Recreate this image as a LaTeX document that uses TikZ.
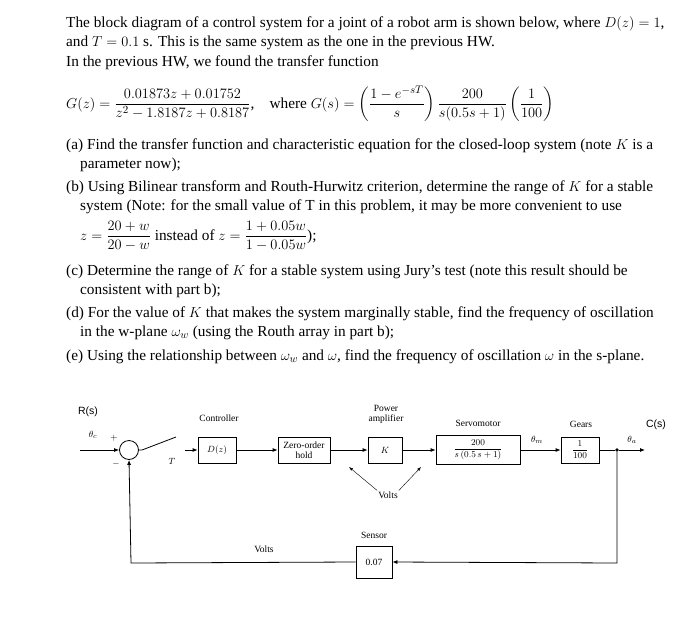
\documentclass[tikz,border=0pt]{standalone}
\usepackage{amsmath}
\usepackage{fontspec}
\setmainfont{Liberation Serif}
\newfontfamily\sansf{Liberation Sans}
\usetikzlibrary{arrows.meta}
\begin{document}
\begin{tikzpicture}[x=1pt,y=-1pt,
  txt/.style={anchor=base west,inner sep=0pt,font=\fontsize{15.3}{18}\selectfont},
  blk/.style={draw,thick,minimum height=26pt,inner sep=2pt,font=\fontsize{9.5}{10}\selectfont,align=center},
  lab/.style={font=\fontsize{9.5}{10}\selectfont,inner sep=1pt},
  sig/.style={thick,-{Latex[length=5pt,width=4pt]}}]
\useasboundingbox (0,0) rectangle (700,623);
\node[txt] (l1) at (66,28) {The block diagram of a control system for a joint of a robot arm is shown below, where $D(z)=1$,};
\node[txt] (l2) at (66,47) {and $T=0.1$ s. This is the same system as the one in the previous HW.};
\node[txt] (l3) at (66,67) {In the previous HW, we found the transfer function};
\node[txt] (l4) at (66,108) {$G(z)=\dfrac{0.01873z+0.01752}{z^2-1.8187z+0.8187}$,\quad where $G(s)=\left(\dfrac{1-e^{-sT}}{s}\right)\dfrac{200}{s(0.5s+1)}\left(\dfrac{1}{100}\right)$};
\node[txt] (l5) at (66,149) {(a) Find the transfer function and characteristic equation for the closed-loop system (note $K$ is a};
\node[txt] (l6) at (80,168) {parameter now);};
\node[txt] (l7) at (66,191) {(b) Using Bilinear transform and Routh-Hurwitz criterion, determine the range of $K$ for a stable};
\node[txt] (l8) at (80,210) {system (Note: for the small value of T in this problem, it may be more convenient to use};
\node[txt] (l9) at (80,240) {$z=\dfrac{20+w}{20-w}$ instead of $z=\dfrac{1+0.05w}{1-0.05w}$);};
\node[txt] (l10) at (66,275) {(c) Determine the range of $K$ for a stable system using Jury's test (note this result should be};
\node[txt] (l11) at (80,294) {consistent with part b);};
\node[txt] (l12) at (66,317) {(d) For the value of $K$ that makes the system marginally stable, find the frequency of oscillation};
\node[txt] (l13) at (80,336) {in the w-plane $\omega_w$ (using the Routh array in part b);};
\node[txt] (l14) at (66,360) {(e) Using the relationship between $\omega_w$ and $\omega$, find the frequency of oscillation $\omega$ in the s-plane.};
% diagram
\coordinate (in) at (80,450);
\node[draw,thick,circle,minimum size=19pt,inner sep=0pt] (sum) at (129,450) {};
\coordinate (sw1) at (142,450);
\coordinate (sw2) at (176,437);
\coordinate (sw3) at (185,450);
\node[blk,minimum width=38pt] (D) at (217,450) {$D(z)$};
\node[blk,minimum width=52pt] (zoh) at (304,450) {Zero-order\\hold};
\node[blk,minimum width=34pt] (K) at (385,450) {$K$};
\node[blk,minimum width=84pt,minimum height=29pt] (servo) at (478,450) {$\dfrac{200}{s\,(0.5\,s+1)}$};
\node[blk,minimum width=38pt] (gear) at (580,450) {$\dfrac{1}{100}$};
\coordinate (out) at (645,450);
\node[fill,circle,inner sep=1.3pt] (br) at (617,450) {};
\node[blk,minimum width=36pt,minimum height=32pt] (sens) at (374,562) {0.07};
\coordinate (c1) at (617,563);
\coordinate (c2) at (131,563);
\node[lab,font=\sansf\fontsize{10.5}{11}\selectfont] (rs) at (88,412) {R(s)};
\node[lab,font=\sansf\fontsize{10.5}{11}\selectfont] (cs) at (656,425) {C(s)};
\node[lab] (te) at (93,435) {$\theta_c$};
\node[lab] (pl) at (114,438) {$+$};
\node[lab] (mi) at (116,464) {$-$};
\node[lab] (T) at (172,461) {$T$};
\node[lab] (ctl) at (219,418) {Controller};
\node[lab,align=center] (pa) at (386,414) {Power\\amplifier};
\node[lab] (svm) at (478,423) {Servomotor};
\node[lab] (gr) at (581,424) {Gears};
\node[lab] (tm) at (537,440) {$\theta_m$};
\node[lab] (ta) at (632,440) {$\theta_a$};
\node[lab] (v1) at (388,495) {Volts};
\node[lab] (sl) at (374,535) {Sensor};
\node[lab] (v2) at (264,549) {Volts};
\draw[sig] (in) -- (sum.west);
\draw[thick] (sum.east) -- (sw1) -- (sw2);
\draw[sig] (sw3) -- (D.west);
\draw[sig] (D.east) -- (zoh.west);
\draw[sig] (zoh.east) -- (K.west);
\draw[sig] (K.east) -- (servo.west);
\draw[sig] (servo.east) -- (gear.west);
\draw[thick] (gear.east) -- (br);
\draw[sig] (br) -- (out);
\draw[sig] (br) -- (c1) -- (sens.east);
\draw[sig] (sens.west) -- (c2) -- (sum.south);
\draw[thin,-{Latex[length=4pt]}] (v1.north west) -- (349,467);
\draw[thin,-{Latex[length=4pt]}] (v1.north east) -- (421,467);
\end{tikzpicture}
\end{document}
